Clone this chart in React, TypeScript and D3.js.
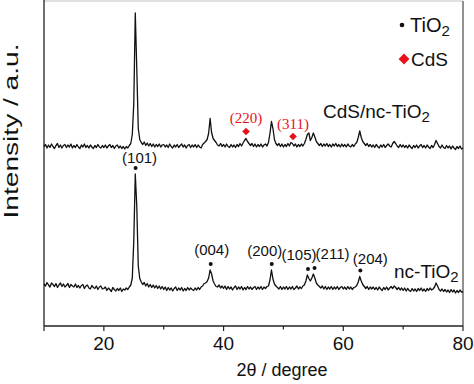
import React from 'react';
import * as d3 from 'd3';

// XRD scans, 2θ = 10..80° sampled every 0.25°
const thetaStart = 10;
const thetaStep = 0.25;

// nc-TiO2 (bottom trace), a.u.
const ncTiO2 = [
  84, 80, 87, 82, 78, 86, 83, 79, 85, 77, 82, 86, 79, 84, 78, 81, 85, 77, 83, 80,
  78, 84, 77, 81, 76, 81, 83, 75, 80, 82, 76, 74, 81, 77, 75, 80, 73, 78, 80, 74,
  75, 78, 71, 76, 73, 69, 77, 73, 70, 75, 71, 76, 69, 74, 72, 76, 73, 78, 82, 96,
  170, 304, 240, 120, 95, 88, 83, 87, 80, 85, 78, 83, 77, 82, 76, 81, 75, 80, 74, 79,
  73, 78, 71, 77, 72, 76, 70, 75, 78, 71, 76, 72, 77, 70, 75, 71, 77, 72, 76, 73,
  71, 76, 72, 77, 73, 78, 80, 85, 86, 89, 96, 112, 104, 90, 84, 79, 78, 82, 76, 80,
  75, 80, 73, 79, 74, 78, 72, 77, 80, 73, 78, 74, 79, 72, 77, 73, 79, 74, 78, 73,
  77, 79, 73, 78, 74, 79, 73, 78, 75, 79, 80, 92, 112, 94, 84, 80, 77, 74, 79, 73,
  78, 74, 79, 73, 78, 74, 79, 73, 76, 80, 74, 78, 75, 80, 82, 90, 102, 95, 90, 96,
  104, 96, 86, 82, 79, 76, 80, 74, 79, 73, 78, 74, 79, 73, 78, 74, 79, 73, 77, 79,
  74, 78, 73, 79, 74, 78, 73, 77, 78, 81, 88, 99, 90, 83, 79, 75, 79, 73, 78, 74,
  78, 73, 77, 72, 78, 74, 71, 77, 73, 78, 72, 76, 79, 75, 80, 77, 73, 77, 72, 76,
  71, 76, 70, 75, 71, 69, 75, 70, 74, 69, 75, 71, 76, 70, 74, 69, 75, 71, 76, 72,
  74, 78, 86, 80, 73, 70, 74, 69, 73, 68, 72, 67, 73, 68, 72, 66, 71, 67, 72, 68,
  68,
];

// CdS/nc-TiO2 (top trace), a.u. before stacking
const cdsTiO2 = [
  74, 78, 71, 77, 72, 79, 74, 70, 76, 80, 72, 77, 71, 76, 78, 72, 77, 73, 79, 71,
  76, 72, 78, 73, 70, 77, 73, 79, 72, 76, 71, 77, 73, 70, 76, 72, 78, 73, 71, 76,
  72, 77, 71, 75, 78, 72, 76, 70, 75, 77, 71, 75, 70, 74, 69, 74, 71, 76, 80, 98,
  160, 341, 230, 110, 88, 82, 78, 83, 76, 81, 75, 80, 74, 79, 73, 78, 74, 79, 73, 77,
  78, 73, 77, 72, 79, 74, 71, 77, 73, 78, 72, 76, 79, 73, 77, 71, 76, 78, 72, 77,
  73, 78, 72, 77, 73, 71, 78, 81, 84, 88, 100, 130, 102, 90, 86, 82, 77, 75, 80, 74,
  78, 73, 79, 74, 72, 78, 73, 77, 72, 78, 74, 80, 75, 81, 86, 90, 84, 80, 76, 80,
  74, 79, 73, 78, 74, 79, 73, 77, 79, 75, 82, 100, 124, 110, 88, 80, 76, 80, 74, 79,
  73, 78, 74, 80, 75, 82, 80, 75, 79, 73, 78, 74, 79, 75, 80, 88, 98, 101, 86, 92,
  101, 93, 84, 80, 76, 80, 74, 79, 75, 80, 74, 78, 73, 79, 75, 80, 74, 78, 73, 79,
  74, 78, 73, 79, 75, 73, 78, 74, 79, 82, 92, 105, 92, 84, 80, 76, 80, 74, 78, 73,
  77, 72, 78, 74, 71, 77, 73, 78, 72, 76, 79, 75, 73, 80, 84, 80, 75, 72, 78, 73,
  77, 72, 76, 71, 77, 73, 70, 76, 72, 77, 71, 75, 78, 72, 76, 71, 77, 73, 70, 76,
  72, 78, 86, 80, 74, 71, 77, 72, 70, 76, 71, 75, 69, 75, 71, 68, 74, 70, 75, 69,
  71,
];
const stackOffset = 285;

// anatase reflections marked on the bottom trace
const tio2Peaks = [25.3, 37.85, 48.05, 54.1, 55.2, 62.85];
const tio2Hkl = ['(101)', '(004)', '(200)', '(105)', '(211)', '(204)'];
// CdS reflections marked on the top trace
const cdsPeaks = [43.75, 51.6];
const cdsHkl = ['(220)', '(311)'];

const xTickLabels = [20, 40, 60, 80];

// label nudges in px (dx, dy from the marker)
const tio2LabelNudge = [[4, -5], [1, -9], [-7, -8], [-9, -9], [18, -9], [10, -7]];
const cdsLabelNudge = [[0, -9], [0, -8]];

const W = 474;
const H = 384;
const left = 44, right = 463, top = 1, bottom = 326;
const sans = '"Liberation Sans", Arial, sans-serif';
const serif = '"Liberation Serif", "Times New Roman", serif';
const red = '#e8111a';

function App() {
  const theta = d3.range(ncTiO2.length).map((i) => thetaStart + i * thetaStep);
  const x = d3.scaleLinear().domain([10, 80]).range([left, right]);
  const y = d3.scaleLinear().domain([0, 650]).range([bottom, top]);

  const line = d3
    .line<number>()
    .x((_, i) => x(theta[i]))
    .y((d) => y(d));

  const topSeries = cdsTiO2.map((v) => v + stackOffset);

  // highest point of a trace near a given angle
  const localMax = (series: number[], t: number) =>
    d3.max(series.filter((_, i) => Math.abs(theta[i] - t) <= 0.3)) as number;

  const ticks = x.ticks(7);
  const diamond = (cx: number, cy: number, r: number) =>
    `M${cx},${cy - r}L${cx + r},${cy}L${cx},${cy + r}L${cx - r},${cy}Z`;

  return (
    <svg width={W} height={H} style={{ position: 'absolute', left: 0, top: 0, background: '#fff' }}>
      {/* frame */}
      <line x1={left} x2={right} y1={top} y2={top} stroke="#d6d6d6" strokeWidth={1.5} />
      <line x1={right} x2={right} y1={top} y2={bottom} stroke="#555" strokeWidth={1.3} />
      <line x1={left} x2={left} y1={0} y2={bottom} stroke="#222" strokeWidth={1.3} />
      <line x1={left} x2={right} y1={bottom} y2={bottom} stroke="#222" strokeWidth={1.3} />

      {ticks.map((t) => (
        <line
          key={t}
          x1={x(t)}
          x2={x(t)}
          y1={bottom}
          y2={bottom + (t % 20 === 0 || t === 10 ? 5 : 3.5)}
          stroke="#222"
          strokeWidth={1.2}
        />
      ))}
      {xTickLabels.map((t) => (
        <text key={t} x={x(t)} y={350} textAnchor="middle" fontFamily={sans} fontSize={19} fill="#111">
          {t}
        </text>
      ))}
      <text x={282} y={376} textAnchor="middle" fontFamily={sans} fontSize={18} fill="#111">
        2θ / degree
      </text>
      <text
        transform="translate(18,131) rotate(-90)"
        textAnchor="middle"
        fontFamily={sans}
        fontSize={20}
        textLength={175}
        lengthAdjust="spacingAndGlyphs"
        fill="#111"
      >
        Intensity / a.u.
      </text>

      {/* traces */}
      <path d={line(topSeries) ?? ''} fill="none" stroke="#111" strokeWidth={1.3} strokeLinejoin="round" />
      <path d={line(ncTiO2) ?? ''} fill="none" stroke="#111" strokeWidth={1.3} strokeLinejoin="round" />

      {/* TiO2 markers */}
      {tio2Peaks.map((p, i) => {
        const cx = x(p);
        const cy = y(localMax(ncTiO2, p)) - 6;
        return (
          <g key={p}>
            <circle cx={cx} cy={cy} r={2} fill="#111" />
            <text
              x={cx + tio2LabelNudge[i][0]}
              y={cy + tio2LabelNudge[i][1]}
              textAnchor="middle"
              fontFamily={sans}
              fontSize={15}
              fill="#111"
            >
              {tio2Hkl[i]}
            </text>
          </g>
        );
      })}

      {/* CdS markers */}
      {cdsPeaks.map((p, i) => {
        const cx = x(p);
        const cy = y(localMax(topSeries, p)) - 7;
        return (
          <g key={p}>
            <path d={diamond(cx, cy, 3.8)} fill={red} />
            <text
              x={cx + cdsLabelNudge[i][0]}
              y={cy + cdsLabelNudge[i][1]}
              textAnchor="middle"
              fontFamily={serif}
              fontSize={15}
              fill={red}
            >
              {cdsHkl[i]}
            </text>
          </g>
        );
      })}

      {/* trace names */}
      <text x={323} y={118} fontFamily={sans} fontSize={19} fill="#111">
        CdS/nc-TiO<tspan dy={4} fontSize={15}>2</tspan>
      </text>
      <text x={394} y={278} fontFamily={sans} fontSize={19} fill="#111">
        nc-TiO<tspan dy={4} fontSize={15}>2</tspan>
      </text>

      {/* legend */}
      <circle cx={402} cy={25} r={2.3} fill="#111" />
      <text x={410} y={32} fontFamily={sans} fontSize={20} fill="#111">
        TiO<tspan dy={4} fontSize={15}>2</tspan>
      </text>
      <path d={diamond(404, 59, 5.4)} fill={red} />
      <text x={411} y={66} fontFamily={sans} fontSize={19} fill="#111">
        CdS
      </text>
    </svg>
  );
}

export default App;
